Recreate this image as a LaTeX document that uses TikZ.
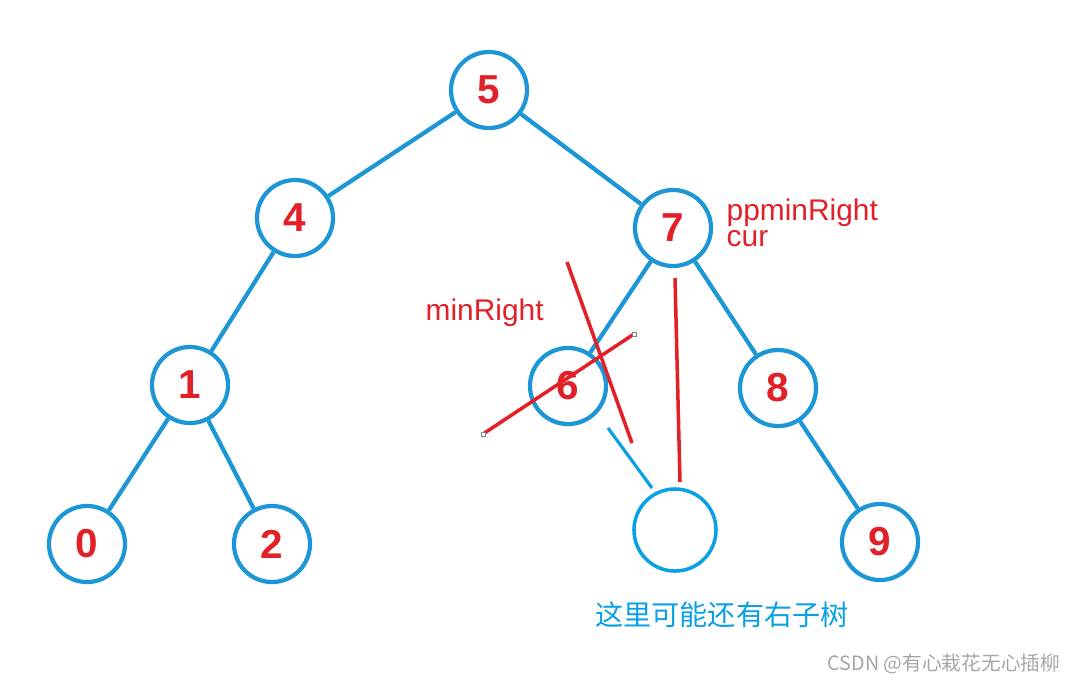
\documentclass[tikz,border=0pt]{standalone}
\usepackage{fontspec}
\setmainfont{Liberation Sans}
\newfontfamily\cjk{Noto Sans CJK SC}
\begin{document}
\begin{tikzpicture}[x=0.01cm,y=-0.01cm]
\definecolor{tb}{RGB}{28,150,212}
\definecolor{lb}{RGB}{10,160,230}
\definecolor{tr}{RGB}{226,32,40}
\tikzset{tn/.style={circle,draw=tb,line width=1.2pt,minimum size=0.76cm,inner sep=0,font=\bfseries\fontsize{11.5}{11.5}\selectfont,text=tr},
ed/.style={draw=tb,line width=1.2pt},
rl/.style={draw=tr,line width=1pt},
lab/.style={text=tr,font=\fontsize{8.5}{8.5}\selectfont,anchor=west,inner sep=0}}
\useasboundingbox[fill=white] (0,0) rectangle (1073,684);
\node[tn] (n5) at (489,90) {5};
\node[tn] (n4) at (295,218) {4};
\node[tn] (n7) at (673,228) {7};
\node[tn] (n1) at (190,385) {1};
\node[tn] (n6) at (568,386) {6};
\node[tn] (n8) at (778,388) {8};
\node[tn] (n0) at (87,544) {0};
\node[tn] (n2) at (272,544) {2};
\node[tn] (n9) at (880,542) {9};
\node[circle,draw=lb,line width=1pt,minimum size=0.82cm] (ne) at (675,530) {};
\draw[ed] (n5)--(n4); \draw[ed] (n5)--(n7); \draw[ed] (n4)--(n1);
\draw[ed] (n7)--(n6); \draw[ed] (n7)--(n8); \draw[ed] (n1)--(n0);
\draw[ed] (n1)--(n2); \draw[ed] (n8)--(n9);
\coordinate (b1) at (608,428); \coordinate (b2) at (652,488);
\draw[draw=lb,line width=0.9pt] (b1)--(b2);
\coordinate (r1) at (567,262); \coordinate (r2) at (632,443);
\coordinate (r3) at (675,278); \coordinate (r4) at (680,482);
\coordinate (r5) at (483,434); \coordinate (r6) at (634,334);
\draw[rl] (r1)--(r2); \draw[rl] (r3)--(r4); \draw[rl] (r5)--(r6);
\draw[fill=white,draw=gray,line width=0.2pt] (481,432) rectangle (485,436);
\draw[fill=white,draw=gray,line width=0.2pt] (632,332) rectangle (636,336);
\node[lab] (t1) at (726,213) {ppminRight};
\node[lab] (t2) at (726,239) {cur};
\node[lab] (t3) at (425,313) {minRight};
\node[text=lb,font=\cjk\fontsize{8}{8}\selectfont,inner sep=0] (t4) at (722,615) {这里可能还有右子树};
\node[text=gray!70,font=\cjk\fontsize{5.6}{5.6}\selectfont,inner sep=0] (t5) at (944,664) {CSDN @有心栽花无心插柳};
\end{tikzpicture}
\end{document}
